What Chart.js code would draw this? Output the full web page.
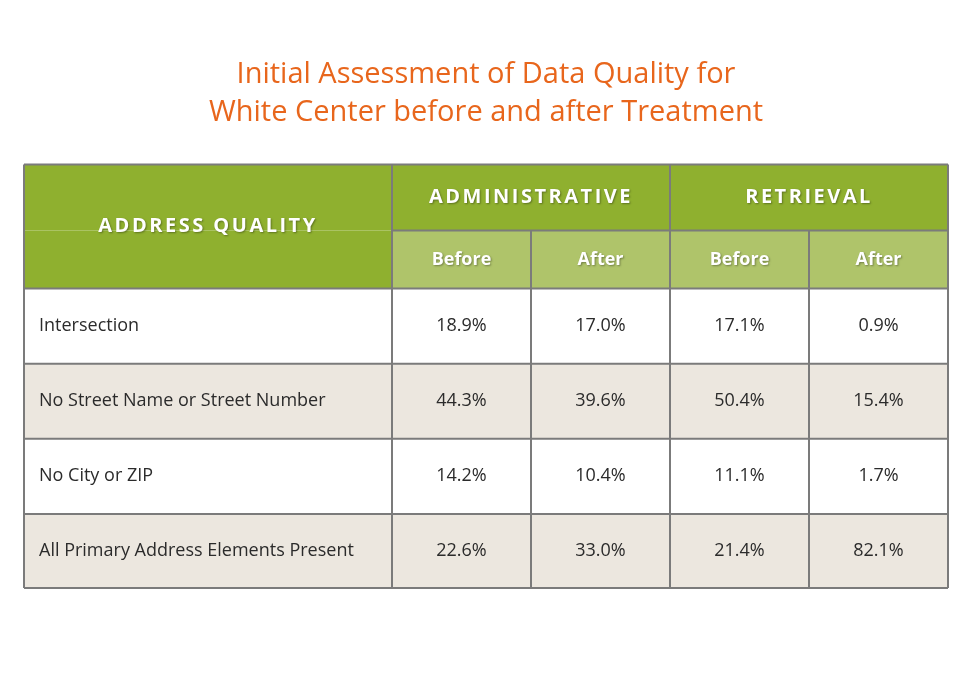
<!DOCTYPE html>
<html><head><meta charset="utf-8">
<script src="https://cdn.jsdelivr.net/npm/chart.js@4"></script>
<style>html,body{margin:0;padding:0;background:#fff}#w{width:975px;height:675px}</style>
</head><body><div id="w"><canvas id="c"></canvas></div>
<script>
const titleLines = ["Initial Assessment of Data Quality for","White Center before and after Treatment"];
const groupLabels = ["ADMINISTRATIVE","RETRIEVAL"];
const subLabels = ["Before","After","Before","After"];
const categories = ["Intersection","No Street Name or Street Number","No City or ZIP","All Primary Address Elements Present"];
const adminBefore = [18.9,44.3,14.2,22.6];
const adminAfter = [17.0,39.6,10.4,33.0];
const retrBefore = [17.1,50.4,11.1,21.4];
const retrAfter = [0.9,15.4,1.7,82.1];

const colEdges = [0,368,507,646,785,924];
const rowEdges = [0,66,124,199,274,349,423];
const C = {dark:'#8fb02f', light:'#afc46a', beige:'#ece7df', grid:'#7b7b7b', text:'#2b2b2b'};

const tablePlugin = {
  id:'table',
  afterDraw(chart){
    const ctx = chart.ctx, xs = chart.scales.x, ys = chart.scales.y;
    const X = v=>xs.getPixelForValue(v), Y = v=>ys.getPixelForValue(v);
    const rect=(c0,c1,r0,r1,fill)=>{ctx.fillStyle=fill;ctx.fillRect(X(colEdges[c0]),Y(rowEdges[r0]),X(colEdges[c1])-X(colEdges[c0]),Y(rowEdges[r1])-Y(rowEdges[r0]));};
    ctx.save();
    rect(0,5,0,1,C.dark); rect(0,1,1,2,C.dark); rect(1,5,1,2,C.light);
    categories.forEach((_,i)=>rect(0,5,2+i,3+i,i%2?C.beige:'#fff'));
    // grid
    ctx.strokeStyle=C.grid; ctx.lineWidth=2;
    const line=(x0,y0,x1,y1)=>{ctx.beginPath();ctx.moveTo(x0,y0);ctx.lineTo(x1,y1);ctx.stroke();};
    rowEdges.forEach((r,i)=>{ if(i===1) line(X(colEdges[1]),Y(r),X(colEdges[5]),Y(r)); else line(X(colEdges[0]),Y(r),X(colEdges[5]),Y(r)); });
    colEdges.forEach((c,i)=>{ const top = (i===2||i===4)?rowEdges[1]:rowEdges[0]; line(X(c),Y(top),X(c),Y(rowEdges[6])); });
    const midX=(a,b)=>(X(colEdges[a])+X(colEdges[b]))/2, midY=(a,b)=>(Y(rowEdges[a])+Y(rowEdges[b]))/2;
    ctx.textBaseline='middle';
    // headers
    ctx.fillStyle='#fff'; ctx.textAlign='center';
    ctx.shadowColor='rgba(0,0,0,0.35)'; ctx.shadowOffsetX=1; ctx.shadowOffsetY=1; ctx.shadowBlur=2;
    ctx.font='bold 20px "Open Sans", sans-serif'; ctx.letterSpacing='2.5px';
    ctx.fillText("ADDRESS QUALITY",midX(0,1),midY(0,2));
    ctx.fillText(groupLabels[0],midX(1,3),midY(0,1));
    ctx.fillText(groupLabels[1],midX(3,5),midY(0,1));
    ctx.letterSpacing='0px'; ctx.font='bold 18px "Open Sans", sans-serif';
    subLabels.forEach((s,i)=>ctx.fillText(s,midX(i+1,i+2),midY(1,2)));
    ctx.shadowColor='transparent';
    // body
    ctx.fillStyle=C.text; ctx.font='18px "Open Sans", sans-serif';
    const cols=[adminBefore,adminAfter,retrBefore,retrAfter];
    categories.forEach((cat,i)=>{
      ctx.textAlign='left'; ctx.fillText(cat,X(colEdges[0])+15,midY(2+i,3+i));
      ctx.textAlign='center';
      cols.forEach((arr,j)=>ctx.fillText(arr[i].toFixed(1)+'%',midX(j+1,j+2),midY(2+i,3+i)));
    });
    ctx.restore();
  }
};

new Chart(document.getElementById('c'),{
  type:'scatter',
  data:{datasets:[{data:[]}]},
  options:{
    responsive:true, maintainAspectRatio:false, animation:false,
    layout:{padding:{left:24,right:27,top:56,bottom:87}},
    plugins:{legend:{display:false},tooltip:{enabled:false},
      title:{display:true,text:titleLines,color:'#e8661c',font:{size:29,weight:'500',family:'"Open Sans", sans-serif',lineHeight:1.3},padding:{top:0,bottom:33}}},
    scales:{
      x:{type:'linear',min:colEdges[0],max:colEdges[5],display:false},
      y:{type:'linear',min:rowEdges[0],max:rowEdges[6],reverse:true,display:false}
    }
  },
  plugins:[tablePlugin]
});
</script></body></html>
